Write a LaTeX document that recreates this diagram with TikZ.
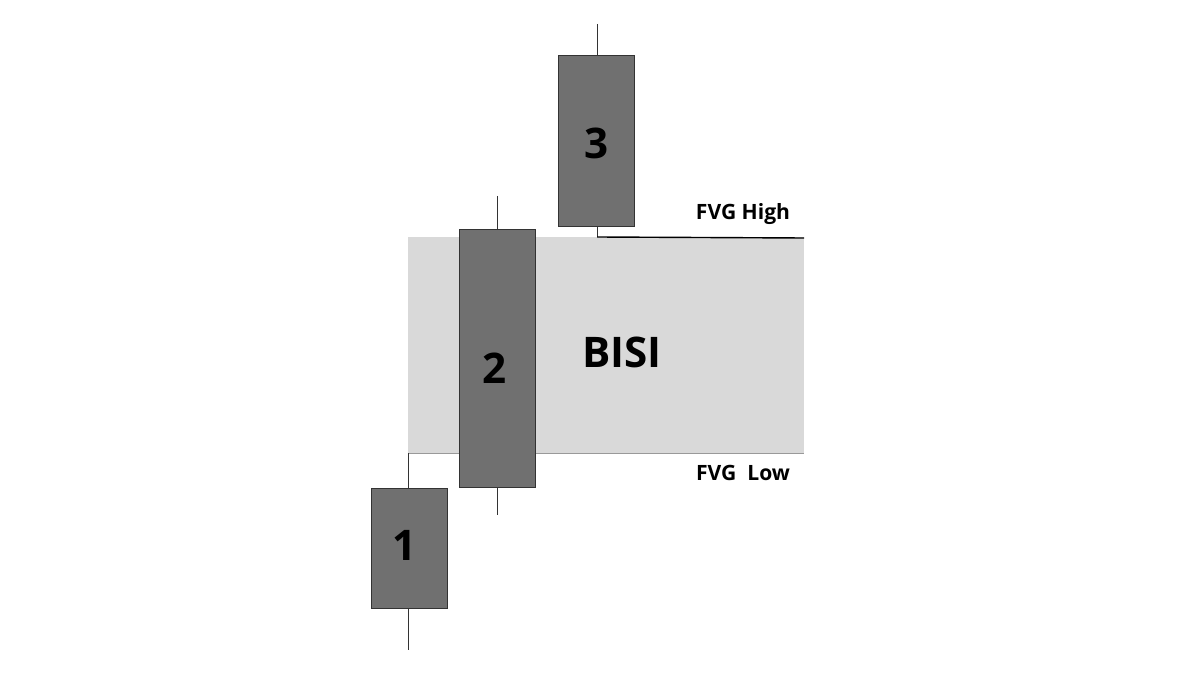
\documentclass[tikz,border=0pt]{standalone}
\usepackage{fontspec}
\setmainfont{Open Sans}
\begin{document}
\begin{tikzpicture}[x=0.02cm,y=-0.02cm,
  body/.style={draw=black!80,line width=0.5pt,fill=black!56},
  wick/.style={draw=black!80,line width=0.5pt},
  num/.style={font=\bfseries\fontsize{24}{28}\selectfont},
  lab/.style={font=\bfseries\fontsize{12}{14}\selectfont}]
\useasboundingbox (0,0) rectangle (1200,675);
\fill[black!15] (408,237) rectangle (804,453);
\draw[black!40,line width=0.5pt] (408,453) -- (804,453);
% candle 1
\coordinate (w1t) at (408,453); \coordinate (w1b) at (408,650);
\draw[wick] (w1t) -- (w1b);
\node[body,minimum width=76*0.02cm,minimum height=120*0.02cm,inner sep=0] (c1) at (409,548) {};
\node[num] (n1) at (405,545) {1};
% candle 2
\coordinate (w2t) at (497,196); \coordinate (w2b) at (497,515);
\draw[wick] (w2t) -- (w2b);
\node[body,minimum width=76*0.02cm,minimum height=258*0.02cm,inner sep=0] (c2) at (497,358) {};
\node[num] (n2) at (495,368) {2};
% candle 3
\coordinate (w3t) at (597,24); \coordinate (w3b) at (597,237);
\draw[wick] (w3t) -- (w3b);
\node[body,minimum width=76*0.02cm,minimum height=171*0.02cm,inner sep=0] (c3) at (596,141) {};
\node[num] (n3) at (597,143) {3};
\coordinate (hi) at (804,238);
\draw[black,line width=0.8pt] (w3b) -- (hi);
\node[lab] (fh) at (743,214) {FVG High};
\node[lab] (fl) at (743,473) {FVG\ \ Low};
\node[font=\bfseries\fontsize{24}{28}\selectfont] (bisi) at (622,352) {BISI};
\end{tikzpicture}
\end{document}
